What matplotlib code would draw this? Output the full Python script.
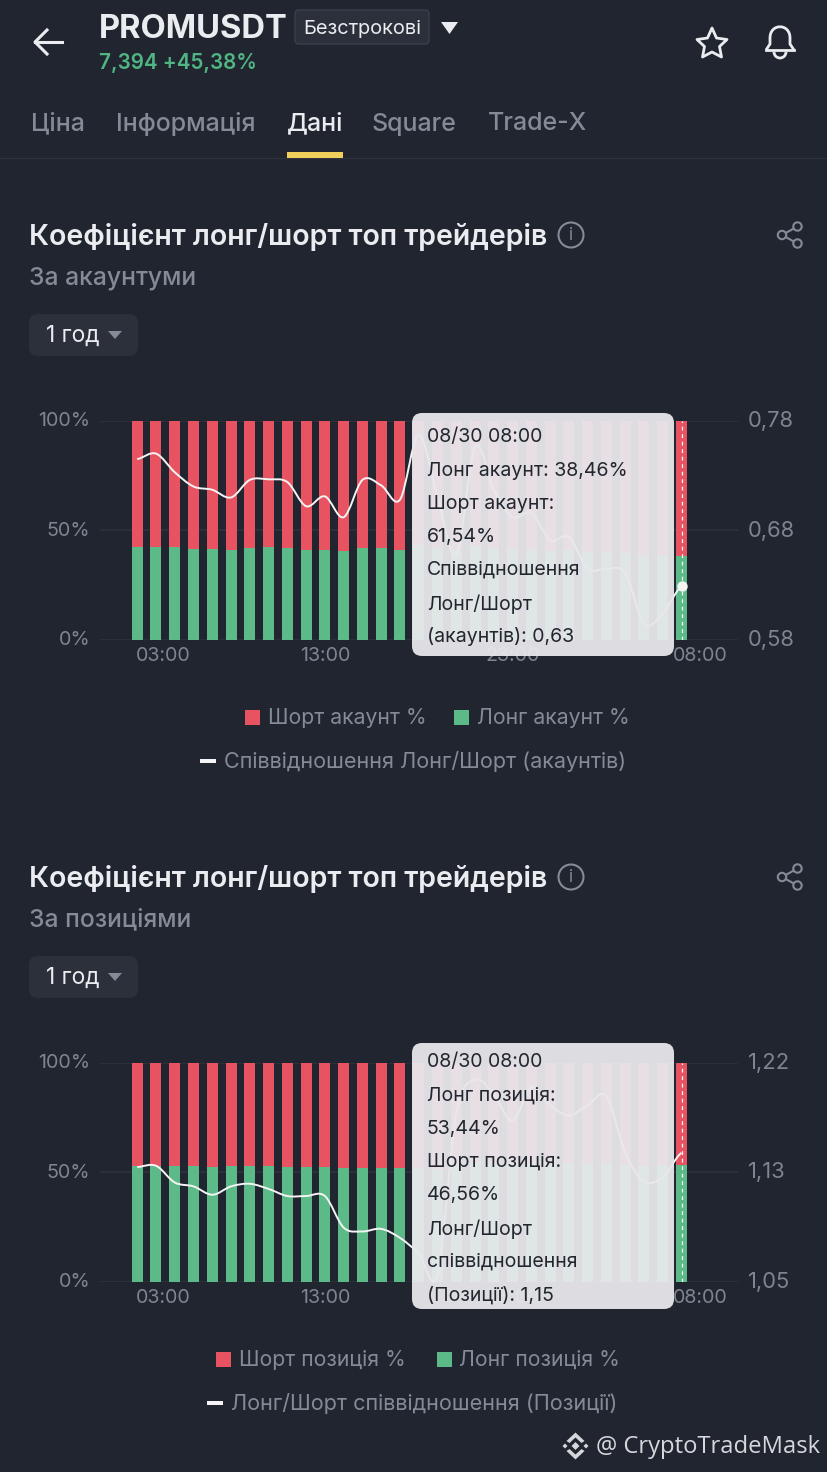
import matplotlib
matplotlib.use('Agg')
import matplotlib.pyplot as plt
from matplotlib.patches import FancyBboxPatch, Rectangle, Polygon, Circle, PathPatch, Arc
from matplotlib.path import Path
from matplotlib.transforms import ScaledTranslation

plt.rcParams['font.family'] = ['Inter', 'Noto Sans', 'DejaVu Sans']

W, H = 828, 1472
BG = '#212530'
RED = '#e75361'
GREEN = '#5cb988'
GREY = '#848a96'
TICK = '#7f8590'
LIGHT = '#eaecef'
GRID = '#2d323c'

# data
hours = ['03:00', '13:00', '23:00', '08:00']
hour_idx = [0, 10, 20, 29]

acc_long = [42.4, 42.6, 42.2, 41.6, 41.6, 41.2, 42.0, 42.2, 41.9, 41.2,
            41.2, 40.6, 41.9, 41.9, 41.2, 43.3, 42.0, 41.0, 42.8, 42.0,
            41.3, 41.3, 40.8, 41.0, 40.0, 40.0, 39.8, 38.6, 38.9, 38.46]
acc_ratio = [0.745, 0.750, 0.733, 0.720, 0.717, 0.710, 0.726, 0.7265, 0.724, 0.702,
             0.711, 0.692, 0.726, 0.721, 0.708, 0.767, 0.711, 0.658, 0.756, 0.717,
             0.692, 0.696, 0.671, 0.674, 0.645, 0.645, 0.641, 0.595, 0.604, 0.629]
acc_ticks = [0.58, 0.68, 0.78]
acc_ticklabels = ['0,58', '0,68', '0,78']

pos_long = [53.0, 53.0, 52.8, 52.7, 52.4, 52.8, 52.8, 52.7, 52.4, 52.4,
            52.4, 51.9, 51.9, 51.9, 51.9, 51.7, 51.4, 54.2, 54.7, 54.4,
            54.0, 54.6, 54.3, 54.1, 54.3, 54.4, 53.5, 53.0, 53.1, 53.44]
pos_ratio = [1.139, 1.140, 1.127, 1.124, 1.1175, 1.124, 1.126, 1.122, 1.1165, 1.1165,
             1.1165, 1.092, 1.089, 1.091, 1.084, 1.072, 1.056, 1.181, 1.207, 1.195,
             1.175, 1.201, 1.187, 1.179, 1.187, 1.194, 1.150, 1.128, 1.131, 1.150]
pos_ticks = [1.05, 1.135, 1.22]
pos_ticklabels = ['1,05', '1,13', '1,22']

pct_ticks = [0, 50, 100]
pct_ticklabels = ['0%', '50%', '100%']

acc_tip = ['08/30 08:00', 'Лонг акаунт: 38,46%', 'Шорт акаунт:', '61,54%',
           'Співвідношення', 'Лонг/Шорт', '(акаунтів): 0,63']
pos_tip = ['08/30 08:00', 'Лонг позиція:', '53,44%', 'Шорт позиція:', '46,56%',
           'Лонг/Шорт', 'співвідношення', '(Позиції): 1,15']


def px(size):
    return size * 0.72


def smooth_path(xs, ys):
    # catmull-rom through the points, like the rounded line of the app
    verts = [(xs[0], ys[0])]
    codes = [Path.MOVETO]
    n = len(xs)
    for i in range(n - 1):
        y0 = ys[max(i - 1, 0)]
        y3 = ys[min(i + 2, n - 1)]
        verts.append((xs[i] + 1 / 3, ys[i] + (ys[i + 1] - y0) / 6))
        verts.append((xs[i + 1] - 1 / 3, ys[i + 1] - (y3 - ys[i]) / 6))
        verts.append((xs[i + 1], ys[i + 1]))
        codes += [Path.CURVE4] * 3
    return Path(verts, codes)


def draw_chart(top, bottom, long_pct, ratio, rticks, rlabels, dot):
    ax = fig.add_axes([100 / W, 1 - bottom / H, 638 / W, (bottom - top) / H], zorder=2)
    ax.patch.set_alpha(0)
    x = list(range(len(long_pct)))
    short = [100 - v for v in long_pct]
    ax.bar(x, long_pct, width=0.586, color=GREEN, zorder=3)
    ax.bar(x, short, bottom=long_pct, width=0.586, color=RED, zorder=3)
    ax.axvline(x[-1], color='white', ls=(0, (3, 3)), lw=0.9, zorder=4)
    ax.set_xlim((100 - 137.2) / 18.77, (738 - 137.2) / 18.77)
    ax.set_ylim(0, 100)
    ax.set_yticks(pct_ticks, pct_ticklabels)
    ax.set_xticks(hour_idx, hours)
    ax.grid(axis='y', color=GRID, lw=1.2, zorder=0)
    ax.tick_params(length=0, colors=TICK, labelsize=px(19.7))
    ax.tick_params(axis='y', pad=7)
    ax.tick_params(axis='x', pad=5.2)
    up = ScaledTranslation(0, 1.7 / 100, fig.dpi_scale_trans)
    for lab in ax.get_yticklabels():
        lab.set_transform(lab.get_transform() + up)
    labels = ax.get_xticklabels()
    labels[0].set_transform(labels[0].get_transform() + ScaledTranslation(26 / 100, 0, fig.dpi_scale_trans))
    labels[-1].set_transform(labels[-1].get_transform() + ScaledTranslation(19 / 100, 0, fig.dpi_scale_trans))
    for s in ax.spines.values():
        s.set_visible(False)

    ax2 = ax.twinx()
    ax2.set_zorder(3)
    ax2.patch.set_alpha(0)
    ax2.set_ylim(rticks[0], rticks[-1])
    ax2.set_yticks(rticks, rlabels)
    ax2.tick_params(length=0, colors=TICK, labelsize=px(22), pad=7)
    for lab in ax2.get_yticklabels():
        lab.set_transform(lab.get_transform() + up)
    for s in ax2.spines.values():
        s.set_visible(False)
    ax2.add_patch(PathPatch(smooth_path(x, ratio), fc='none', ec='#f4f4f4', lw=1.4, zorder=5, clip_on=False))
    if dot:
        ax2.plot(x[-1], ratio[-1], 'o', ms=6.5, color='#f4f4f4', zorder=6)


def section(y0, sub):
    bg.text(29, y0 + 2, 'Коефіцієнт лонг/шорт топ трейдерів', color=LIGHT, fontsize=px(28.5),
            fontweight='semibold', va='center')
    bg.add_patch(Circle((571, y0), 12.5, fc='none', ec=GREY, lw=1.5))
    bg.text(571, y0, 'i', color=GREY, fontsize=px(17), ha='center', va='center')
    bg.text(29, y0 + 43, sub, color=GREY, fontsize=px(24.7), va='center', fontweight='medium')
    # share icon
    nodes = [(797.5, y0 - 8.5), (782, y0), (797.5, y0 + 8.5)]
    bg.plot([n[0] for n in nodes], [n[1] for n in nodes], color=GREY, lw=1.5)
    for n in nodes:
        bg.add_patch(Circle(n, 4.2, fc=BG, ec=GREY, lw=1.5, zorder=4))
    bg.add_patch(FancyBboxPatch((29, y0 + 79), 109, 42, boxstyle='round,pad=0,rounding_size=9',
                                fc='#2b303b', ec='none'))
    bg.text(46, y0 + 101, '1 год', color=LIGHT, fontsize=px(22.8), va='center')
    bg.add_patch(Polygon([(108, y0 + 96), (122, y0 + 96), (115, y0 + 104)], fc=GREY, ec='none'))


def legend_row(y, sq1, t1, sq2, t2, key, t3, lab1, lab2, lab3):
    top.add_patch(Rectangle((sq1, y - 7.5), 15, 15, fc=RED, ec='none'))
    top.text(t1, y + 1, lab1, color=GREY, fontsize=px(21.2), va='center')
    top.add_patch(Rectangle((sq2, y - 7.5), 15, 15, fc=GREEN, ec='none'))
    top.text(t2, y + 1, lab2, color=GREY, fontsize=px(21.2), va='center')
    top.add_patch(Rectangle((key, y + 42), 16, 4, fc='#f4f4f4', ec='none'))
    top.text(t3, y + 44, lab3, color=GREY, fontsize=px(21.6), va='center')


def tooltip(y0, y1, lines, ys):
    top.add_patch(FancyBboxPatch((412, y0), 262, y1 - y0, boxstyle='round,pad=0,rounding_size=10',
                                 fc='#e8e8ec', ec='none', alpha=0.95, zorder=5))
    for t, y in zip(lines, ys):
        top.text(427, y + 2, t, color='#22262e', fontsize=px(19.5), va='center', zorder=6)


fig = plt.figure(figsize=(W / 100, H / 100), dpi=100, facecolor=BG)

bg = fig.add_axes([0, 0, 1, 1], zorder=1)
bg.set_xlim(0, W)
bg.set_ylim(H, 0)
bg.axis('off')

top = fig.add_axes([0, 0, 1, 1], zorder=5)
top.set_xlim(0, W)
top.set_ylim(H, 0)
top.axis('off')
top.patch.set_alpha(0)

# header
bg.plot([35, 62], [42, 42], color=LIGHT, lw=2.2)
bg.plot([47, 35, 47], [30, 42, 54], color=LIGHT, lw=2.2)
bg.text(99, 29, 'PROMUSDT', color=LIGHT, fontsize=px(32.7), fontweight='bold', va='center')
bg.add_patch(FancyBboxPatch((295, 10), 134, 34, boxstyle='round,pad=0,rounding_size=4',
                            fc='#2b303b', ec='#3a404c', lw=1))
bg.text(303, 29, 'Безстрокові', color=LIGHT, fontsize=px(20), va='center')
bg.add_patch(Polygon([(441, 22), (458, 22), (449.5, 34)], fc=LIGHT, ec='none'))
bg.text(99, 63, '7,394 +45,38%', color='#4fb583', fontsize=px(20.6), va='center', fontweight='semibold')

star = [(712, 28), (716.5, 38), (727, 39.5), (719.5, 46.5), (721.5, 57), (712, 52),
        (702.5, 57), (704.5, 46.5), (697, 39.5), (707.5, 38)]
bg.add_patch(Polygon(star, fc='none', ec=LIGHT, lw=2, joinstyle='round'))
bell = Path([(766, 50), (770, 44), (770, 38), (770, 23), (790, 23), (790, 38), (790, 44), (794, 50)],
            [Path.MOVETO, Path.LINETO, Path.LINETO, Path.CURVE4, Path.CURVE4, Path.CURVE4, Path.LINETO, Path.LINETO])
bg.add_patch(PathPatch(bell, fc='none', ec=LIGHT, lw=2))
bg.plot([766, 794], [50, 50], color=LIGHT, lw=2)
bg.add_patch(Arc((780, 52), 12, 12, theta1=0, theta2=180, color=LIGHT, lw=2))

tabs = [('Ціна', 31, GREY), ('Інформація', 116, GREY), ('Дані', 287, LIGHT),
        ('Square', 372, GREY), ('Trade-X', 488, GREY)]
for name, x0, col in tabs:
    bg.text(x0, 124, name, color=col, fontsize=px(25), va='center', fontweight='medium')
bg.plot([0, W], [157.5, 157.5], color='#2d323c', lw=1)
bg.add_patch(Rectangle((287, 152), 56, 5.5, fc='#f0cf5a', ec='none', zorder=3))

section(235, 'За акаунтуми')
section(877, 'За позиціями')

draw_chart(420.7, 640, acc_long, acc_ratio, acc_ticks, acc_ticklabels, True)
draw_chart(1062.7, 1281.7, pos_long, pos_ratio, pos_ticks, pos_ticklabels, False)

tooltip(413, 656, acc_tip, [435, 469, 502, 535, 568, 602, 635])
tooltip(1043, 1309, pos_tip, [1060, 1094, 1127, 1160, 1193, 1227, 1260, 1293])

legend_row(717, 245, 268, 454, 477, 200, 224, 'Шорт акаунт %', 'Лонг акаунт %',
           'Співвідношення Лонг/Шорт (акаунтів)')
legend_row(1359, 216, 239, 437, 459, 207, 231, 'Шорт позиція %', 'Лонг позиція %',
           'Лонг/Шорт співвідношення (Позиції)')

# watermark
lc = '#d5d7da'
cx, cy = 575.5, 1446
top.add_patch(Polygon([(cx, cy - 4), (cx + 4, cy), (cx, cy + 4), (cx - 4, cy)], fc=lc, ec='none'))
for sx in (-1, 1):
    top.add_patch(Polygon([(cx + sx * 10.5, cy - 2.5), (cx + sx * 8, cy), (cx + sx * 10.5, cy + 2.5), (cx + sx * 13, cy)], fc=lc, ec='none'))
for sy in (-1, 1):
    top.add_patch(Polygon([(cx - 9, cy + sy * 5), (cx, cy + sy * 13.5), (cx + 9, cy + sy * 5), (cx + 6, cy + sy * 3),
                           (cx, cy + sy * 8.5), (cx - 6, cy + sy * 3)], fc=lc, ec='none'))
top.text(596, 1447, '@ CryptoTradeMask', color=lc, fontsize=px(23.8), va='center', family=['Open Sans', 'DejaVu Sans'])

fig.savefig('out.png', dpi=100, facecolor=BG)
